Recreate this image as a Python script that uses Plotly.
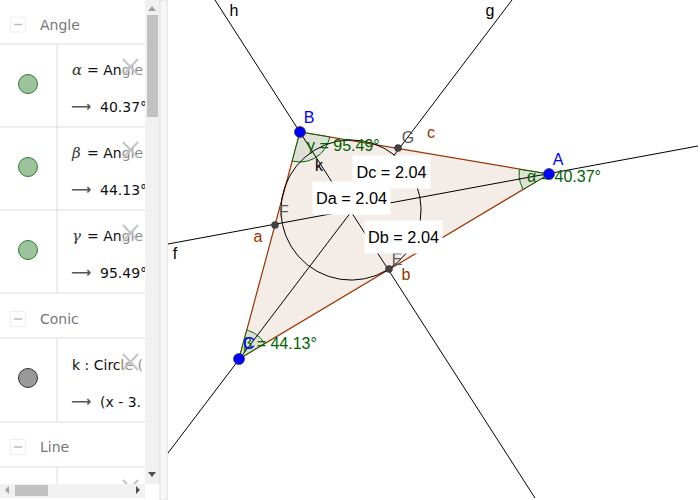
import numpy as np
import plotly.graph_objects as go

# geometry, in screen pixels
A = (549, 174)
B = (300, 132)
C = (239, 359)
E = (389, 269)
F = (275, 225)
G = (398, 148)
INCENTER = (351, 210)
CIRCLE_R = 70
SECTOR_R = 30

LINE_F = [(168, 244), (698, 146)]
LINE_G = [(512, 0), (168, 453)]
LINE_H = [(215, 0), (535, 498)]

BROWN = "#993300"
GREEN = "#006400"
BLUE = "#0000ff"
GREY_LABEL = "#5a5a5a"

# label, x, y, colour
graph_labels = [
    ("A", 558, 160.5, BLUE), ("B", 309, 118.5, BLUE), ("C", 249, 344.5, BLUE),
    ("E", 397, 260.5, GREY_LABEL), ("F", 284, 212.5, GREY_LABEL), ("G", 408, 138.5, GREY_LABEL),
    ("a", 258, 237.5, BROWN), ("b", 406, 275.5, BROWN), ("c", 431, 133.5, BROWN),
    ("f", 175, 254.5, "black"), ("g", 490, 12, "black"), ("h", 234, 12, "black"),
    ("k", 319, 167, "black"),
]
angle_labels = [
    ("α = 40.37°", 527, 177.5),
    ("γ = 95.49°", 307, 146.5),
    ("β = 44.13°", 243, 344.5),
]
dist_labels = [("Dc = 2.04", 391.5, 172), ("Da = 2.04", 351.5, 197.5), ("Db = 2.04", 403.5, 237)]

# algebra panel
headers = [("Angle", 24.5), ("Conic", 319), ("Line", 447)]
row_lines = [44, 127, 210, 293, 338, 422, 467]
row_spans = [(44, 293), (338, 422), (467, 484)]
marbles = [(84, "#9dc39d", "#2e7d32"), (167, "#9dc39d", "#2e7d32"), (250, "#9dc39d", "#2e7d32"), (378, "#999999", "#333333")]
symbols = [("α", 72, 71), ("β", 72, 154), ("γ", 72, 237)]
defs = [("= Angle", 87, 71), ("= Angle", 87, 154), ("= Angle", 87, 237), ("k : Circle (", 72, 366)]
results = [("40.37°", 100, 108), ("44.13°", 100, 191), ("95.49°", 100, 274), ("(x - 3.", 100, 403)]
arrows_y = [107, 190, 273, 402]
close_y = [67, 150, 233, 362, 488]


def arc(center, start, end, r, n=60):
    t = np.linspace(start, end, n)
    return center[0] + r * np.cos(t), center[1] + r * np.sin(t)


def sector(v, p, q, r):
    a1 = np.arctan2(p[1] - v[1], p[0] - v[0])
    a2 = np.arctan2(q[1] - v[1], q[0] - v[0])
    d = (a2 - a1 + np.pi) % (2 * np.pi) - np.pi
    return arc(v, a1, a1 + d, r)


fig = go.Figure()

# triangle
fig.add_trace(go.Scatter(
    x=[A[0], B[0], C[0], A[0]], y=[A[1], B[1], C[1], A[1]], mode="lines", fill="toself",
    fillcolor="#f4ece7", line=dict(color=BROWN, width=1.2),
))

# angle sectors
for v, p, q in [(A, B, C), (B, C, A), (C, A, B)]:
    ax, ay = sector(v, p, q, SECTOR_R)
    fig.add_trace(go.Scatter(
        x=[v[0], *ax, v[0]], y=[v[1], *ay, v[1]], mode="lines", fill="toself",
        fillcolor="#dfe0d6", line=dict(color=GREEN, width=1),
    ))

# lines f, g, h and circle k
for ln in [LINE_F, LINE_G, LINE_H]:
    fig.add_trace(go.Scatter(x=[ln[0][0], ln[1][0]], y=[ln[0][1], ln[1][1]], mode="lines",
                             line=dict(color="black", width=1)))
cx, cy = arc(INCENTER, 0, 2 * np.pi, CIRCLE_R, 181)
fig.add_trace(go.Scatter(x=cx, y=cy, mode="lines", line=dict(color="black", width=1)))

# text on the graphics view
fig.add_trace(go.Scatter(
    x=[t[1] for t in angle_labels], y=[t[2] for t in angle_labels], text=[t[0] for t in angle_labels],
    mode="text", textposition="middle right",
    textfont=dict(family="Liberation Sans", size=16, color=GREEN),
))
fig.add_trace(go.Scatter(
    x=[t[1] for t in graph_labels], y=[t[2] for t in graph_labels], text=[t[0] for t in graph_labels],
    mode="text", textposition="middle center",
    textfont=dict(family="Liberation Sans", size=16, color=[t[3] for t in graph_labels]),
))

# points
fig.add_trace(go.Scatter(x=[E[0], F[0], G[0]], y=[E[1], F[1], G[1]], mode="markers",
                         marker=dict(size=7, color="#444444", line=dict(color="#222222", width=0.5))))
fig.add_trace(go.Scatter(x=[A[0], B[0], C[0]], y=[A[1], B[1], C[1]], mode="markers",
                         marker=dict(size=11, color=BLUE, line=dict(color="#333333", width=0.7))))

# algebra panel text
PANEL_FONT = "DejaVu Sans"
fig.add_trace(go.Scatter(
    x=[40] * len(headers), y=[h[1] + 1.5 for h in headers], text=[h[0] for h in headers],
    mode="text", textposition="middle right",
    textfont=dict(family=PANEL_FONT, size=14, color="#777777"),
))
fig.add_trace(go.Scatter(
    x=[s[1] for s in symbols], y=[s[2] for s in symbols], text=["<i>" + s[0] + "</i>" for s in symbols],
    mode="text", textposition="middle right",
    textfont=dict(family="DejaVu Serif", size=15, color="#333333"),
))
fig.add_trace(go.Scatter(
    x=[d[1] for d in defs], y=[d[2] for d in defs], text=[d[0] for d in defs],
    mode="text", textposition="middle right",
    textfont=dict(family=PANEL_FONT, size=14, color="#111111"),
))
fig.add_trace(go.Scatter(
    x=[r[1] for r in results], y=[r[2] for r in results], text=[r[0] for r in results],
    mode="text", textposition="middle right",
    textfont=dict(family=PANEL_FONT, size=14, color="#111111"),
))
fig.add_trace(go.Scatter(
    x=[71] * len(arrows_y), y=arrows_y, text=["<b>⟶</b>"] * len(arrows_y),
    mode="text", textposition="middle right",
    textfont=dict(family="DejaVu Sans", size=14, color="#555555"),
))

# marbles
fig.add_trace(go.Scatter(
    x=[28] * len(marbles), y=[m[0] for m in marbles], mode="markers",
    marker=dict(size=19, color=[m[1] for m in marbles], line=dict(color=[m[2] for m in marbles], width=1)),
))

shapes = []
RULE = "#dddddd"
for y in row_lines:
    shapes.append(dict(type="line", x0=0, x1=145, y0=y, y1=y, line=dict(color=RULE, width=1), layer="below"))
for y0, y1 in row_spans:
    shapes.append(dict(type="line", x0=57, x1=57, y0=y0, y1=y1, line=dict(color=RULE, width=1), layer="below"))
for _, y in headers:
    shapes.append(dict(type="rect", x0=10.5, x1=25.5, y0=y - 7.5, y1=y + 7.5, line=dict(color="#eeeeee", width=1), layer="below"))
    shapes.append(dict(type="line", x0=14, x1=22, y0=y, y1=y, line=dict(color="#bbbbbb", width=1.5), layer="below"))

# things that sit over the panel text
for y in close_y:
    shapes.append(dict(type="rect", x0=122, x1=145, y0=y - 10, y1=y + 11, fillcolor="rgba(255,255,255,0.5)", line_width=0, layer="above"))
    shapes.append(dict(type="line", x0=123, x1=138, y0=y - 8, y1=y + 8, line=dict(color="#c4c4c4", width=2), layer="above"))
    shapes.append(dict(type="line", x0=123, x1=138, y0=y + 8, y1=y - 8, line=dict(color="#c4c4c4", width=2), layer="above"))

# scrollbars and splitter
shapes += [
    dict(type="rect", x0=145, x1=160, y0=0, y1=484, fillcolor="#f1f1f1", line_width=0, layer="above"),
    dict(type="rect", x0=0, x1=145, y0=484, y1=498, fillcolor="#f1f1f1", line_width=0, layer="above"),
    dict(type="rect", x0=147, x1=158, y0=15, y1=117, fillcolor="#c1c1c1", line_width=0, layer="above"),
    dict(type="rect", x0=15, x1=48, y0=485, y1=496, fillcolor="#c1c1c1", line_width=0, layer="above"),
    dict(type="rect", x0=160, x1=167, y0=0, y1=500, fillcolor="#f8f8f8", line=dict(color=RULE, width=1), layer="above"),
    dict(type="path", path="M 148 11 L 156 11 L 152 6 Z", fillcolor="#a0a0a0", line_width=0, layer="above"),
    dict(type="path", path="M 148 472 L 156 472 L 152 477 Z", fillcolor="#505050", line_width=0, layer="above"),
    dict(type="path", path="M 9 486 L 9 494 L 5 490 Z", fillcolor="#a0a0a0", line_width=0, layer="above"),
    dict(type="path", path="M 136 486 L 136 494 L 140 490 Z", fillcolor="#505050", line_width=0, layer="above"),
]

annotations = [
    dict(x=x, y=y, text=t, showarrow=False, xref="x", yref="y", bgcolor="white", width=75, height=30,
         font=dict(family="Liberation Sans", size=16.3, color="black"))
    for t, x, y in dist_labels
]

fig.update_layout(
    width=700, height=500, margin=dict(l=0, r=0, t=0, b=0),
    showlegend=False, plot_bgcolor="white", paper_bgcolor="white",
    xaxis=dict(range=[0, 700], visible=False, fixedrange=True),
    yaxis=dict(range=[500, 0], visible=False, fixedrange=True),
    shapes=shapes, annotations=annotations,
)

fig.write_html("out.html", config=dict(displayModeBar=False),
               post_script="document.body.style.margin='0';document.body.style.overflow='hidden';")
